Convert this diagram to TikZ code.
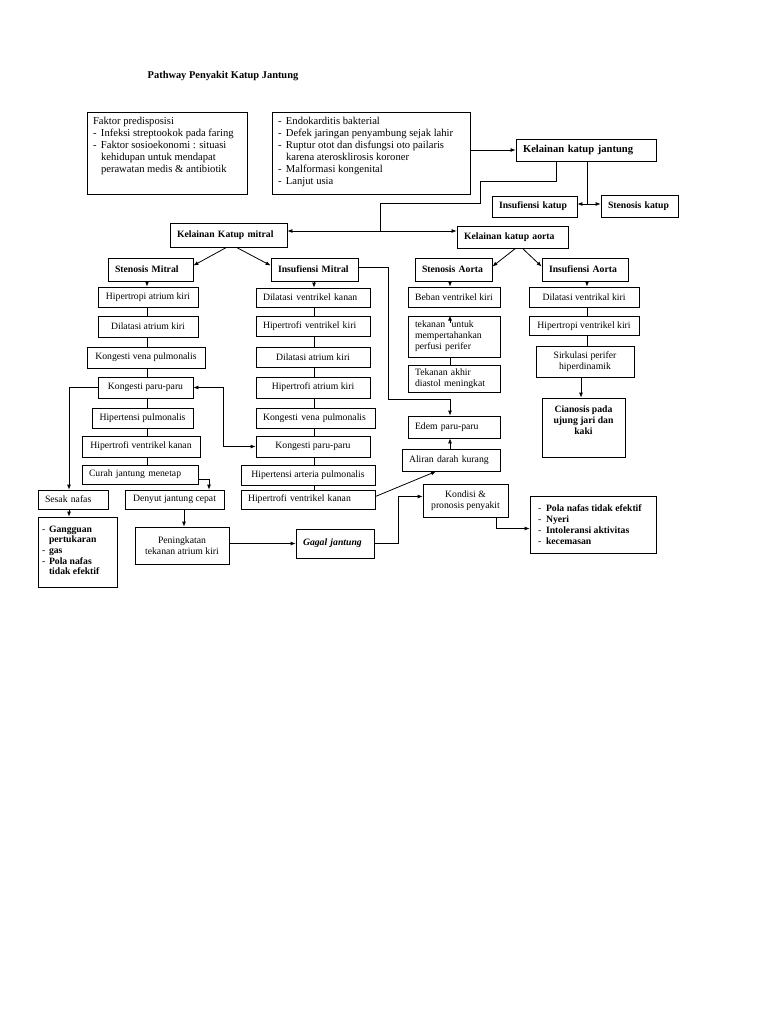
\documentclass[tikz,border=0pt]{standalone}
\usepackage{fontspec}
\setmainfont{Liberation Serif}
\usetikzlibrary{arrows.meta}
\begin{document}
\begin{tikzpicture}[x=1pt, y=-1pt, line width=0.8pt, >={Latex[length=5pt,width=4pt]}]
	\tikzstyle{Box} = [rectangle, draw, inner sep=2pt, align=center, font=\fontsize{9.7}{11}\selectfont]
	\tikzstyle{Left} = [align=left, inner xsep=7pt]
	\tikzstyle{Bold} = [Box, Left, font=\fontsize{9.7}{11}\selectfont\bfseries]
	\path [fill=white] (0,0) rectangle (768,1024);

	\node (title) at (223,76) [font=\fontsize{10.4}{12}\selectfont\bfseries] {Pathway Penyakit Katup Jantung};

	% penyebab
	\node (pre) at (167,153) [Box, inner xsep=6pt, inner ysep=4pt, font=\fontsize{10.6}{12}\selectfont] {\parbox[t][74pt][t]{148pt}{\rule{0pt}{9pt}Faktor predisposisi\\
		\makebox[8pt][l]{-}Infeksi streptookok pada faring\\
		\makebox[8pt][l]{-}Faktor sosioekonomi : situasi\\
		\hspace*{8pt}kehidupan untuk mendapat\\
		\hspace*{8pt}perawatan medis \& antibiotik}};
	\node (ety) at (371,153) [Box, inner xsep=6pt, inner ysep=4pt, font=\fontsize{10.6}{12}\selectfont] {\parbox[t][74pt][t]{186pt}{\rule{0pt}{9pt}\makebox[8pt][l]{-}Endokarditis bakterial\\
		\makebox[8pt][l]{-}Defek jaringan penyambung sejak lahir\\
		\makebox[8pt][l]{-}Ruptur otot dan disfungsi oto pailaris\\
		\hspace*{8pt}karena aterosklirosis koroner\\
		\makebox[8pt][l]{-}Malformasi kongenital\\
		\makebox[8pt][l]{-}Lanjut usia}};

	% kelainan katup
	\node (kkj) at (586,150) [Bold, text width=126pt, minimum height=22pt, font=\fontsize{10.6}{12}\selectfont\bfseries] {Kelainan katup jantung};
	\node (ik) at (534.5,206.5) [Bold, text width=71pt, minimum height=21pt] {Insufiensi katup};
	\node (sk) at (639.5,206.5) [Bold, text width=63pt, minimum height=22pt] {Stenosis katup};
	\node (kkm) at (228.5,235) [Bold, text width=103pt, minimum height=24pt] {Kelainan Katup mitral};
	\node (kka) at (512.5,237) [Bold, text width=97pt, minimum height=22pt] {Kelainan katup aorta};
	\node (smi) at (150.5,269.5) [Bold, text width=71pt, minimum height=23pt] {Stenosis Mitral};
	\node (imi) at (314.5,269.5) [Bold, text width=73pt, minimum height=23pt] {Insufiensi Mitral};
	\node (sao) at (453.5,269.5) [Bold, text width=63pt, minimum height=23pt] {Stenosis Aorta};
	\node (iao) at (585,269.5) [Bold, text width=72pt, minimum height=23pt] {Insufiensi Aorta};

	% stenosis mitral
	\node (l1) at (148,297) [Box, minimum width=100pt, minimum height=20pt] {Hipertropi atrium kiri};
	\node (l2) at (148,326.5) [Box, minimum width=100pt, minimum height=21pt] {Dilatasi atrium kiri};
	\node (l3) at (146,357.5) [Box, minimum width=118pt, minimum height=21pt] {Kongesti vena pulmonalis};
	\node (l4) at (145.5,387.5) [Box, minimum width=95pt, minimum height=21pt] {Kongesti paru-paru};
	\node (l5) at (142.5,418) [Box, minimum width=101pt, minimum height=20pt] {Hipertensi pulmonalis};
	\node (l6) at (141,446.5) [Box, minimum width=118pt, minimum height=21pt] {Hipertrofi ventrikel kanan};
	\node (l7) at (140,474.5) [Box, Left, text width=102pt, minimum height=19pt] {Curah jantung menetap};
	\node (sn) at (73,499.5) [Box, Left, text width=56pt, minimum height=19pt] {Sesak nafas};
	\node (dj) at (174.5,499.5) [Box, minimum width=99pt, minimum height=19pt] {Denyut jantung cepat};
	\node (gg) at (77.5,552) [Box, inner xsep=4pt, inner ysep=3pt, font=\fontsize{9.7}{10.7}\selectfont] {\parbox[t][64pt][t]{71pt}{\rule{0pt}{12pt}\makebox[7pt][l]{-}\textbf{Gangguan}\\
		\hspace*{7pt}\textbf{pertukaran}\\
		\makebox[7pt][l]{-}\textbf{gas}\\
		\makebox[7pt][l]{-}\textbf{Pola nafas}\\
		\hspace*{7pt}\textbf{tidak efektif}}};
	\node (pt) at (182,545.5) [Box, minimum width=94pt, minimum height=37pt] {Peningkatan\\ tekanan atrium kiri};
	\node (gj) at (335,543.5) [Box, Left, text width=64pt, minimum height=29pt, font=\fontsize{9.7}{11}\selectfont\bfseries\itshape] {Gagal jantung};

	% insufiensi mitral
	\node (m1) at (313,297.5) [Box, Left, text width=100pt, minimum height=19pt] {Dilatasi ventrikel kanan};
	\node (m2) at (313,326) [Box, Left, text width=100pt, minimum height=20pt] {Hipertrofi ventrikel kiri};
	\node (m3) at (313,357) [Box, minimum width=114pt, minimum height=20pt] {Dilatasi atrium kiri};
	\node (m4) at (313,387.5) [Box, minimum width=114pt, minimum height=21pt] {Hipertrofi atrium kiri};
	\node (m5) at (315.5,418) [Box, Left, text width=105pt, minimum height=20pt] {Kongesti vena pulmonalis};
	\node (m6) at (313,446.5) [Box, minimum width=114pt, minimum height=21pt] {Kongesti paru-paru};
	\node (m7) at (308,475) [Box, minimum width=134pt, minimum height=20pt] {Hipertensi arteria pulmonalis};
	\node (m8) at (308,499.5) [Box, Left, text width=120pt, minimum height=19pt] {Hipertrofi ventrikel kanan};

	% stenosis aorta
	\node (r1) at (454,297) [Box, minimum width=92pt, minimum height=20pt] {Beban ventrikel kiri};
	\node (r2) at (454,336.5) [Box, Left, text width=78pt, minimum height=41pt] {tekanan \ untuk\\ mempertahankan\\ perfusi perifer};
	\node (r3) at (454,378.5) [Box, Left, text width=78pt, minimum height=27pt] {Tekanan akhir\\ diastol meningkat};
	\node (r4) at (454,427) [Box, Left, text width=78pt, minimum height=22pt] {Edem paru-paru};
	\node (r5) at (451,460) [Box, Left, text width=84pt, minimum height=22pt] {Aliran darah kurang};
	\node (kp) at (465.5,500.5) [Box, minimum width=85pt, minimum height=33pt] {Kondisi \&\\ pronosis penyakit};

	% insufiensi aorta
	\node (q1) at (584,297) [Box, minimum width=110pt, minimum height=20pt] {Dilatasi ventrikal kiri};
	\node (q2) at (584,326) [Box, minimum width=110pt, minimum height=19pt] {Hipertropi ventrikel kiri};
	\node (q3) at (585,361.5) [Box, minimum width=98pt, minimum height=31pt] {Sirkulasi perifer\\ hiperdinamik};
	\node (q4) at (583.5,427.5) [Box, inner sep=3pt, font=\fontsize{9.7}{11}\selectfont\bfseries] {\parbox[t][53pt][t]{77pt}{\centering\rule{0pt}{11.5pt}Cianosis pada\\ ujung jari dan\\ kaki}};
	\node (ak) at (593,524.5) [Box, inner xsep=8pt, inner ysep=5pt] {\parbox[t][47pt][t]{110pt}{\rule{0pt}{10pt}\makebox[8pt][l]{-}\textbf{Pola nafas tidak efektif}\\
		\makebox[8pt][l]{-}\textbf{Nyeri}\\
		\makebox[8pt][l]{-}\textbf{Intoleransi aktivitas}\\
		\makebox[8pt][l]{-}\textbf{kecemasan}}};

	\coordinate (j1) at (380,231);
	\coordinate (j2) at (587,204);
	\coordinate (c1) at (147,0);
	\coordinate (c2) at (314,0);
	\coordinate (c3) at (450,0);
	\coordinate (c4) at (587,0);
	\coordinate (c5) at (581,0);
	\coordinate (c6) at (223,0);
	\coordinate (c7) at (69,0);
	\coordinate (c8) at (209,0);
	\coordinate (c9) at (184,0);
	\coordinate (r2t) at (r2.north -| c3);

	\draw [->] (ety.east |- kkj.west) to (kkj.west);
	\draw [-] ([xshift=-30pt]kkj.south) |- (480,181) |- (380,203) -- (j1);
	\draw [<->] (kkm.east |- j1) to (kka.west |- j1);
	\draw [-] (kkj.south -| j2) to (j2);
	\draw [<->] (ik.east |- j2) to (sk.west |- j2);
	\draw [->] ([xshift=-2pt]kkm.south) to ([yshift=4pt]smi.east);
	\draw [->] ([xshift=8pt]kkm.south) to ([yshift=4pt]imi.west);
	\draw [->] ([xshift=3pt]kka.south) to ([yshift=3pt]sao.east);
	\draw [->] ([xshift=10pt]kka.south) to ([yshift=3pt]iao.west);

	\draw [->] (smi.south -| c1) to (l1.north -| c1);
	\draw [-] (l1.south -| c1) to (l2.north -| c1);
	\draw [-] (l2.south -| c1) to (l3.north -| c1);
	\draw [-] (l3.south -| c1) to (l4.north -| c1);
	\draw [-] (l4.south -| c1) to (l5.north -| c1);
	\draw [-] (l5.south -| c1) to (l6.north -| c1);
	\draw [-] (l6.south -| c1) to (l7.north -| c1);
	\draw [->] (l4.west) -| (sn.north -| c7);
	\draw [->] (sn.south -| c7) to (gg.north -| c7);
	\draw [->] ([yshift=-5pt]l7.east) -| (dj.north -| c8);
	\draw [->] (dj.south -| c9) to (pt.north -| c9);
	\draw [->] (pt.east |- gj.west) to (gj.west);
	\draw [<->] (l4.east) -| (c6 |- m6.west) -- (m6.west);

	\draw [->] (imi.south -| c2) to (m1.north -| c2);
	\draw [-] (m1.south -| c2) to (m2.north -| c2);
	\draw [-] (m2.south -| c2) to (m3.north -| c2);
	\draw [-] (m3.south -| c2) to (m4.north -| c2);
	\draw [-] (m4.south -| c2) to (m5.north -| c2);
	\draw [-] (m5.south -| c2) to (m6.north -| c2);
	\draw [-] (m6.south -| c2) to (m7.north -| c2);
	\draw [-] (m7.south -| c2) to (m8.north -| c2);
	\draw [->] ([yshift=2pt]imi.east) -| (388,399) -| (r4.north -| c3);
	\draw [->] ([yshift=3pt]m8.east) to ([xshift=-15pt]r5.south);

	\draw [->] (sao.south -| c3) to (r1.north -| c3);
	\draw [->] ([yshift=-7pt]r2t) to (r2t);
	\draw [-] (r2.south -| c3) to (r3.north -| c3);
	\draw [->] (r5.north -| c3) to (r4.south -| c3);
	\draw [->] (gj.east) -- ++(24,0) |- ([yshift=4pt]kp.west);
	\draw [->] ([xshift=31pt]kp.south) |- ([yshift=-4pt]ak.west);

	\draw [->] (iao.south -| c4) to (q1.north -| c4);
	\draw [-] (q1.south -| c4) to (q2.north -| c4);
	\draw [-] (q2.south -| c4) to (q3.north -| c4);
	\draw [->] (q3.south -| c5) to (q4.north -| c5);
\end{tikzpicture}
\end{document}
